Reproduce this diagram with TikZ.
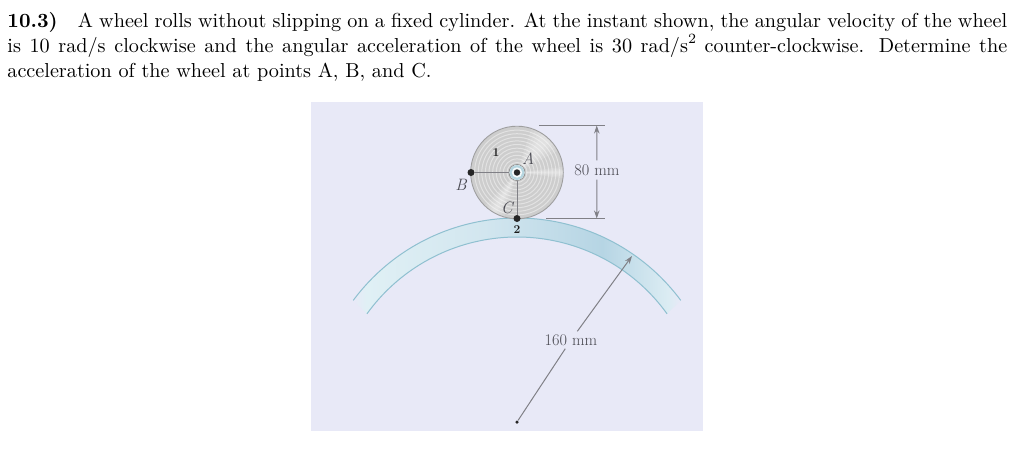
\documentclass[tikz,border=0pt]{standalone}
\usepackage{amsmath}
\usetikzlibrary{arrows.meta}
\definecolor{panel}{HTML}{E8E9F7}
\definecolor{dimc}{HTML}{808086}
\definecolor{rimc}{HTML}{8FC0D0}
\definecolor{wheelgray}{HTML}{CDCDCD}
\definecolor{wheelring}{HTML}{E2E2E2}
\definecolor{inktext}{HTML}{4A4A52}
\definecolor{bandA}{HTML}{E0F0F5}
\definecolor{bandB}{HTML}{D2E6EF}
\definecolor{bandC}{HTML}{B6D5E4}
\definecolor{bandD}{HTML}{DBECF3}
\pgfdeclarehorizontalshading{bandshade}{100bp}{color(0bp)=(panel); color(25bp)=(panel); color(27bp)=(bandA); color(45bp)=(bandB); color(63bp)=(bandC); color(73bp)=(bandD); color(75bp)=(panel); color(100bp)=(panel)}
\tikzset{
  dimline/.style={draw=dimc,line width=1pt},
  dimarrow/.style={dimline,-{Stealth[length=8pt,width=5.5pt]}},
  blackdot/.style={circle,fill=black!85,inner sep=0pt,minimum size=7pt},
  tinydot/.style={circle,fill=black!85,inner sep=0pt,minimum size=3.5pt},
  figlabel/.style={font=\fontsize{16.3}{18}\selectfont,text=inktext,inner sep=0pt},
  figital/.style={font=\fontsize{16.5}{18}\selectfont\itshape,text=inktext,inner sep=0pt},
  fignum/.style={font=\fontsize{12}{13}\selectfont\bfseries,text=black!90,inner sep=0pt},
  hubstyle/.style={circle,draw=black!45,line width=0.7pt,fill=white,inner sep=0pt,minimum size=16pt},
  softwedge/.style={fill=white,opacity=0.13}
}
\begin{document}
\begin{tikzpicture}[x=1pt,y=-1pt]
\useasboundingbox (0,0) rectangle (1024,461);
\fill[white] (0,0) rectangle (1024,461);
\node[anchor=north west,inner sep=0pt,scale=2.02,transform shape,text width=495pt,align=justify,font=\fontsize{10}{12.4}\selectfont] (problem) at (7,11.5)
 {\textbf{10.3)}\hspace{1em}A wheel rolls without slipping on a fixed cylinder. At the instant shown, the angular velocity of the wheel\linebreak is 10 rad/s clockwise and the angular acceleration of the wheel is 30 rad/s\raisebox{4.5pt}{\fontsize{7}{7}\selectfont 2} counter-clockwise. Determine the\linebreak acceleration of the wheel at points A, B, and C.};
\fill[panel] (311,102) rectangle (703,431);
% cylinder band
\begin{scope}[shift={(517,422)}]
\shade[shading=bandshade] (216.6:204) arc[start angle=216.6,end angle=323.4,radius=204] -- (324.2:185) arc[start angle=324.2,end angle=215.8,radius=185] -- cycle;
\draw[rimc,line width=1pt] (216.6:204) arc[start angle=216.6,end angle=323.4,radius=204];
\draw[rimc,line width=1pt] (324.2:185) arc[start angle=324.2,end angle=215.8,radius=185];
\end{scope}
% wheel
\begin{scope}[shift={(517,172.5)}]
\fill[wheelgray] (0,0) circle[radius=46];
\foreach \r in {10,13.6,...,45}{\draw[wheelring,line width=1pt] (0,0) circle[radius=\r];}
\foreach \c/\w in {-50/22,-50/17,-50/12,-50/7,120/14,120/10,120/6,120/3,0/7,0/5,0/3,0/1.5}{
  \fill[softwedge] (0,0) -- (\c-\w:46) arc[start angle=\c-\w,end angle=\c+\w,radius=46] -- cycle;}
\draw[black!38,line width=0.9pt] (0,0) circle[radius=46.3];
\end{scope}
\node[hubstyle] (hub) at (517,172.5) {};
\fill[rimc!65!white] (517,172.5) circle[radius=7.4];
\fill[white!92!rimc] (517,172.5) circle[radius=5.2];
\node[blackdot,minimum size=6.5pt] (A) at (517,172.5) {};
\node[blackdot] (Bpt) at (471,172.5) {};
\node[blackdot] (Cpt) at (517,218.5) {};
\draw[dimline] (Bpt) -- (hub);
\draw[dimline] (hub) -- (Cpt);
\node[figital] (labA) at (528,159) {A};
\node[figital] (labB) at (461,185) {B};
\node[figital] (labC) at (507,208) {C};
\node[fignum] (lab1) at (496,152.5) {1};
\node[fignum] (lab2) at (517,230) {2};
% 80 mm dimension
\coordinate (t1) at (539,125.5);
\coordinate (t2) at (605,125.5);
\coordinate (b1) at (546,218.5);
\coordinate (b2) at (605,218.5);
\draw[dimline] (t1) -- (t2);
\draw[dimline] (b1) -- (b2);
\node[figlabel,fill=panel,inner xsep=1pt,inner ysep=4pt] (d80) at (597,170) {80 mm};
\coordinate (t3) at (596.7,125.5);
\coordinate (b3) at (596.7,218.5);
\draw[dimarrow] (d80) -- (t3);
\draw[dimarrow] (d80) -- (b3);
% 160 mm dimension
\node[tinydot] (O) at (517,422) {};
\coordinate (tip) at (632,256);
\node[figlabel,fill=panel,inner xsep=1pt,inner ysep=3pt] (d160) at (571,340) {160 mm};
\draw[dimline] (O) -- (d160);
\draw[dimarrow] (d160) -- (tip);
\end{tikzpicture}
\end{document}
